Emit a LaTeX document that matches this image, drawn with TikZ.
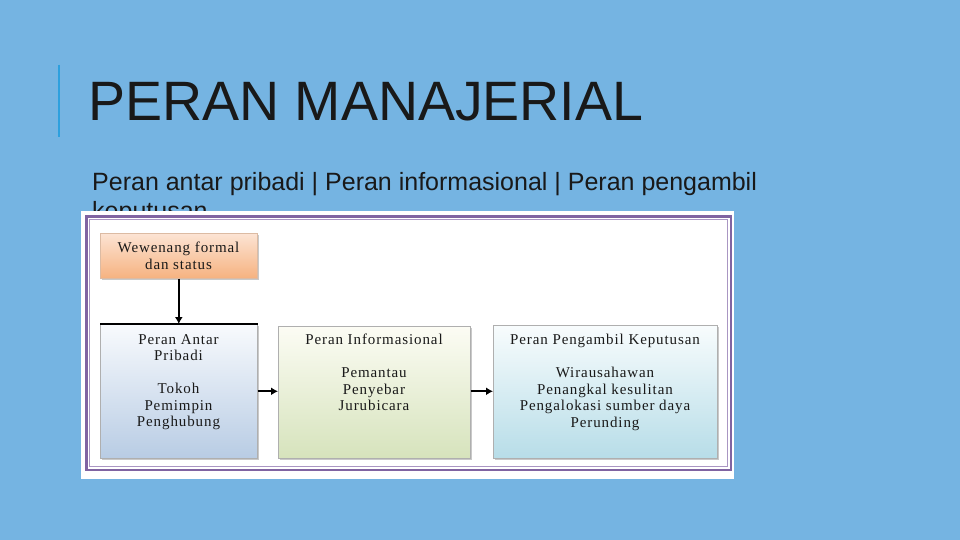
\documentclass[tikz,border=0pt]{standalone}
\usepackage{fontspec}
\setmainfont{Liberation Sans}
\newfontfamily\boxfont[LetterSpace=6]{Liberation Serif}
\usetikzlibrary{shadows,arrows.meta}
\definecolor{bg}{RGB}{117,180,226}
\definecolor{accent}{RGB}{45,160,222}
\definecolor{frame}{RGB}{128,100,162}
\definecolor{frameinner}{RGB}{170,150,195}
\definecolor{orangetop}{RGB}{252,228,212}
\definecolor{orangebot}{RGB}{246,178,128}
\definecolor{bluetop}{RGB}{248,250,253}
\definecolor{bluebot}{RGB}{184,204,228}
\definecolor{greentop}{RGB}{252,252,244}
\definecolor{greenbot}{RGB}{214,227,188}
\definecolor{aquatop}{RGB}{248,252,253}
\definecolor{aquabot}{RGB}{183,221,232}
\definecolor{boxedge}{RGB}{175,175,175}
\tikzset{
  rolebox/.style={draw=boxedge, line width=0.6pt, inner sep=0pt, anchor=north west,
    drop shadow={shadow xshift=1.8pt, shadow yshift=-1.8pt, opacity=0.35, fill=black!60}},
  boxtext/.style={font=\boxfont\fontsize{15}{16.5}\selectfont, align=center, inner sep=0pt, anchor=north, text=black!90},
  arr/.style={draw=black, line width=2.2pt, -{Latex[length=7pt,width=8pt]}}
}
\begin{document}
\begin{tikzpicture}[x=1pt,y=-1pt]
\fill[bg] (0,0) rectangle (960,540);
\useasboundingbox (0,0) rectangle (960,540);
% accent bar
\draw[accent, line width=2.5pt] (59,65) -- (59,137);
% title
\node[anchor=base west, inner sep=0pt, font=\fontsize{55.5}{60}\selectfont, text=black!90] (title) at (88,121) {PERAN MANAJERIAL};
% subtitle
\node[anchor=base west, inner sep=0pt, font=\fontsize{25}{29}\selectfont, text=black!90, align=left] (sub) at (92,219) {Peran antar pribadi | Peran informasional | Peran pengambil\\keputusan};
% picture area
\fill[white] (81,211) rectangle (734,479);
\draw[frame, line width=2.5pt] (86.5,216.5) rectangle (731,470);
\draw[frameinner, line width=0.8pt] (89.5,219.5) rectangle (727,466.5);
% boxes
\node[rolebox, top color=orangetop, bottom color=orangebot, draw=orangebot!80!black!60, minimum width=157, minimum height=45] (w) at (100,233) {};
\node[rolebox, top color=bluetop, bottom color=bluebot, minimum width=157, minimum height=134] (b1) at (100,324) {};
\node[rolebox, top color=greentop, bottom color=greenbot, minimum width=192, minimum height=132] (b2) at (278,326) {};
\node[rolebox, top color=aquatop, bottom color=aquabot, minimum width=224, minimum height=133] (b3) at (493,325) {};
\draw[black, line width=1.4pt] (b1.north west) -- (b1.north east);
% texts
\node[boxtext] (tw) at (178.5,242) {Wewenang formal\\dan status};
\node[boxtext] (t1) at (178.5,334) {Peran Antar\\Pribadi\\[16.5pt]Tokoh\\Pemimpin\\Penghubung};
\node[boxtext] (t2) at (374,334) {Peran Informasional\\[16.5pt]Pemantau\\Penyebar\\Jurubicara};
\node[boxtext] (t3) at (605,334) {Peran Pengambil Keputusan\\[16.5pt]Wirausahawan\\Penangkal kesulitan\\Pengalokasi sumber daya\\Perunding};
% arrows
\draw[arr] (w.south) -- (b1.north);
\draw[arr] (b1.east) -- (b1.east -| b2.west);
\draw[arr] (b1.east -| b2.east) -- (b1.east -| b3.west);
\end{tikzpicture}
\end{document}
